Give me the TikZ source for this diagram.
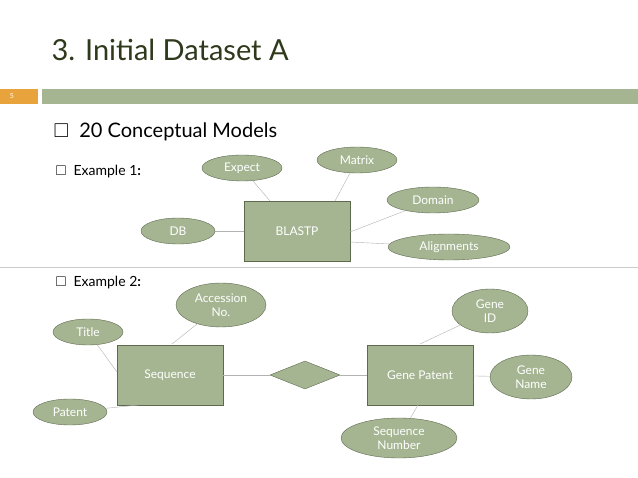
\documentclass[tikz,border=0pt]{standalone}
\usepackage{amssymb}
\usepackage{fontspec}
\setmainfont{Lato}
\usetikzlibrary{shapes.geometric, positioning}
\definecolor{salvia}{HTML}{A5B592}
\definecolor{bordo}{HTML}{5E6A4E}
\definecolor{titolo}{HTML}{2F3A1C}
\definecolor{arancio}{HTML}{E8A33C}
\tikzset{
  entita/.style={draw=bordo, fill=salvia, text=white, minimum width=106pt, minimum height=60pt, font=\fontsize{12}{14}\selectfont},
  attributo/.style={ellipse, draw=bordo, fill=salvia, text=white, inner sep=0pt, font=\fontsize{12}{14}\selectfont, align=center},
  legame/.style={draw=gray!60, thin}
}
\begin{document}
\begin{tikzpicture}[x=1pt, y=-1pt]
				\useasboundingbox (0,0) rectangle (638,478);
				\fill[white] (0,0) rectangle (638,478);

				% heading and bars
				\node[anchor=west, text=titolo, font=\fontsize{29}{32}\selectfont] (head) at (48,50) {3. Initial Dataset A};
				\fill[arancio] (0,89) rectangle (38,104);
				\node[text=white, font=\fontsize{7}{8}\selectfont] (num) at (12,96) {5};
				\fill[salvia] (42,89) rectangle (638,104);

				\node[anchor=west, font=\fontsize{20}{22}\selectfont] (b1) at (50,132) {$\square$\ \ 20 Conceptual Models};
				\node[anchor=west, font=\fontsize{14}{16}\selectfont] (b2) at (52,172) {$\square$\ \ Example 1\textbf{:}};
				\draw[gray!40] (0,267) -- (638,267);
				\node[anchor=west, font=\fontsize{14}{16}\selectfont] (b3) at (52,283) {$\square$\ \ Example 2\textbf{:}};

				% example 1
				\node[entita] (blastp) at (297,231) {BLASTP};
				\node[attributo, minimum width=80pt, minimum height=26pt] (expect) at (242,168) {Expect};
				\node[attributo, minimum width=80pt, minimum height=26pt] (matrix) at (357,160) {Matrix};
				\node[attributo, minimum width=92pt, minimum height=26pt] (domain) at (433,200) {Domain};
				\node[attributo, minimum width=122pt, minimum height=26pt] (align) at (449,247) {Alignments};
				\node[attributo, minimum width=74pt, minimum height=26pt] (db) at (178,231) {DB};

				\draw[legame] (expect) -- (270,201);
				\draw[legame] (matrix) -- (335,201);
				\draw[legame] (domain) -- (350,232);
				\draw[legame] (align) -- (350,242);
				\draw[legame] (db) -- (blastp);

				% example 2
				\node[entita] (seq) at (170,375) {Sequence};
				\node[entita] (patent) at (420,375) {Gene Patent};
				\node[diamond, draw=bordo, fill=salvia, minimum width=70pt, minimum height=28pt, inner sep=0pt] (rel) at (305,375) {};
				\node[attributo, minimum width=90pt, minimum height=44pt] (acc) at (221,305) {Accession\\No.};
				\node[attributo, minimum width=70pt, minimum height=26pt] (title) at (88,332) {Title};
				\node[attributo, minimum width=74pt, minimum height=26pt] (pat) at (70,412) {Patent};
				\node[attributo, minimum width=76pt, minimum height=44pt] (gid) at (490,311) {Gene\\ID};
				\node[attributo, minimum width=82pt, minimum height=44pt] (gname) at (531,377) {Gene\\Name};
				\node[attributo, minimum width=116pt, minimum height=40pt] (snum) at (399,438) {Sequence\\Number};

				\draw[legame] (seq) -- (rel);
				\draw[legame] (rel) -- (patent);
				\draw[legame] (acc) -- (172,344);
				\draw[legame] (title) -- (117,372);
				\draw[legame] (pat) -- (138,405);
				\draw[legame] (gid) -- (420,344);
				\draw[legame] (gname) -- (patent);
				\draw[legame] (snum) -- (418,405);
			\end{tikzpicture}
\end{document}
